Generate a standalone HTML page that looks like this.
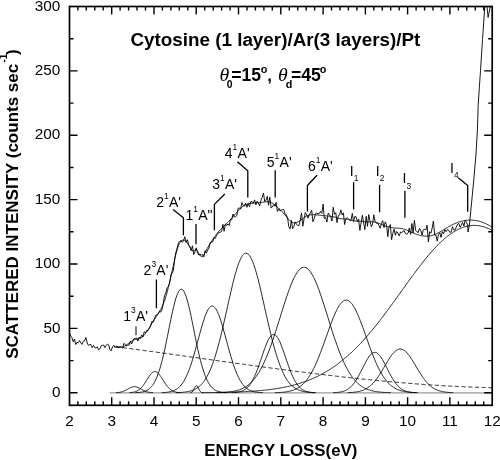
<!DOCTYPE html>
<html>
<head>
<meta charset="utf-8">
<title>Cytosine energy loss spectrum</title>
<style>
html,body{margin:0;padding:0;background:#fff;}
body{width:500px;height:460px;overflow:hidden;}
svg{display:block;font-family:"Liberation Sans",sans-serif;}
.c{fill:none;stroke:#000;stroke-width:0.85;stroke-linejoin:round;}
.d{fill:none;stroke:#000;stroke-width:0.9;stroke-linejoin:round;}
.t{font-size:15.3px;fill:#000;}
.p{font-size:14px;fill:#000;}
.b{font-weight:bold;fill:#000;}
.th{font-family:"Liberation Serif","Liberation Sans",serif;font-style:italic;font-weight:normal;font-size:18px;}
</style>
</head>
<body>
<svg width="500" height="460" viewBox="0 0 500 460">
<rect width="500" height="460" fill="#fff"/>
<!-- curves -->
<line x1="109.7" y1="392.8" x2="492.2" y2="392.8" stroke="#9a9a9a" stroke-width="1.3"/>
<path d="M115.9,392.7 L116.8,392.6 L117.6,392.6 L118.4,392.5 L119.3,392.4 L120.1,392.2 L121.0,392.1 L121.8,391.8 L122.7,391.6 L123.5,391.3 L124.4,390.9 L125.2,390.5 L126.1,390.1 L126.9,389.6 L127.7,389.2 L128.6,388.7 L129.4,388.2 L130.3,387.8 L131.1,387.4 L132.0,387.1 L132.8,386.8 L133.7,386.7 L134.5,386.6 L135.4,386.7 L136.2,386.8 L137.0,387.1 L137.9,387.4 L138.7,387.8 L139.6,388.2 L140.4,388.7 L141.3,389.2 L142.1,389.7 L143.0,390.1 L143.8,390.5 L144.7,390.9 L145.5,391.3 L146.3,391.6 L147.2,391.9 L148.0,392.1 L148.9,392.2 L149.7,392.4 L150.6,392.5 L151.4,392.6 L152.3,392.6 L153.1,392.7" class="c"/>
<path d="M129.4,392.7 L130.3,392.6 L131.1,392.5 L132.0,392.4 L132.8,392.3 L133.7,392.2 L134.5,392.0 L135.4,391.7 L136.2,391.4 L137.0,391.0 L137.9,390.5 L138.7,390.0 L139.6,389.3 L140.4,388.6 L141.3,387.8 L142.1,386.8 L143.0,385.8 L143.8,384.6 L144.7,383.4 L145.5,382.1 L146.3,380.7 L147.2,379.4 L148.0,378.0 L148.9,376.7 L149.7,375.5 L150.6,374.4 L151.4,373.5 L152.3,372.7 L153.1,372.1 L154.0,371.7 L154.8,371.6 L155.7,371.6 L156.5,372.0 L157.3,372.5 L158.2,373.3 L159.0,374.2 L159.9,375.3 L160.7,376.5 L161.6,377.7 L162.4,379.1 L163.3,380.4 L164.1,381.8 L165.0,383.1 L165.8,384.3 L166.6,385.5 L167.5,386.6 L168.3,387.6 L169.2,388.4 L170.0,389.2 L170.9,389.9 L171.7,390.4 L172.6,390.9 L173.4,391.3 L174.3,391.6 L175.1,391.9 L175.9,392.1 L176.8,392.3 L177.6,392.4 L178.5,392.5 L179.3,392.6 L180.2,392.6" class="c"/>
<path d="M135.4,392.7 L136.2,392.6 L137.0,392.6 L137.9,392.5 L138.7,392.5 L139.6,392.4 L140.4,392.3 L141.3,392.2 L142.1,392.0 L143.0,391.8 L143.8,391.6 L144.7,391.3 L145.5,391.0 L146.3,390.6 L147.2,390.2 L148.0,389.7 L148.9,389.1 L149.7,388.4 L150.6,387.6 L151.4,386.7 L152.3,385.6 L153.1,384.5 L154.0,383.1 L154.8,381.6 L155.7,379.9 L156.5,378.1 L157.3,376.0 L158.2,373.7 L159.0,371.3 L159.9,368.6 L160.7,365.7 L161.6,362.6 L162.4,359.3 L163.3,355.9 L164.1,352.2 L165.0,348.4 L165.8,344.4 L166.6,340.3 L167.5,336.2 L168.3,332.0 L169.2,327.7 L170.0,323.5 L170.9,319.4 L171.7,315.3 L172.6,311.4 L173.4,307.7 L174.3,304.2 L175.1,301.0 L175.9,298.1 L176.8,295.6 L177.6,293.5 L178.5,291.7 L179.3,290.4 L180.2,289.6 L181.0,289.2 L181.9,289.2 L182.7,289.8 L183.6,290.8 L184.4,292.3 L185.2,294.1 L186.1,296.4 L186.9,299.1 L187.8,302.1 L188.6,305.4 L189.5,308.9 L190.3,312.7 L191.2,316.7 L192.0,320.8 L192.9,324.9 L193.7,329.2 L194.5,333.4 L195.4,337.6 L196.2,341.7 L197.1,345.8 L197.9,349.7 L198.8,353.4 L199.6,357.0 L200.5,360.5 L201.3,363.7 L202.2,366.7 L203.0,369.5 L203.9,372.1 L204.7,374.5 L205.5,376.7 L206.4,378.7 L207.2,380.5 L208.1,382.1 L208.9,383.6 L209.8,384.9 L210.6,386.0 L211.5,387.0 L212.3,387.9 L213.2,388.6 L214.0,389.3 L214.8,389.9 L215.7,390.4 L216.5,390.8 L217.4,391.1 L218.2,391.4 L219.1,391.7 L219.9,391.9 L220.8,392.1 L221.6,392.2 L222.5,392.3 L223.3,392.4 L224.1,392.5 L225.0,392.6 L225.8,392.6 L226.7,392.6" class="c"/>
<path d="M190.3,392.7 L191.2,392.5 L192.0,392.0 L192.9,391.0 L193.7,389.6 L194.5,387.9 L195.4,386.4 L196.2,385.6 L197.1,386.0 L197.9,387.3 L198.8,389.0 L199.6,390.5 L200.5,391.7 L201.3,392.3 L202.2,392.6 L203.0,392.7" class="c"/>
<path d="M161.6,392.7 L162.4,392.6 L163.3,392.6 L164.1,392.5 L165.0,392.5 L165.8,392.4 L166.6,392.3 L167.5,392.2 L168.3,392.1 L169.2,391.9 L170.0,391.8 L170.9,391.6 L171.7,391.3 L172.6,391.1 L173.4,390.8 L174.3,390.4 L175.1,390.0 L175.9,389.5 L176.8,389.0 L177.6,388.4 L178.5,387.7 L179.3,386.9 L180.2,386.1 L181.0,385.1 L181.9,384.0 L182.7,382.9 L183.6,381.6 L184.4,380.2 L185.2,378.6 L186.1,376.9 L186.9,375.1 L187.8,373.2 L188.6,371.1 L189.5,368.8 L190.3,366.5 L191.2,364.0 L192.0,361.4 L192.9,358.6 L193.7,355.8 L194.5,352.9 L195.4,349.9 L196.2,346.8 L197.1,343.7 L197.9,340.5 L198.8,337.4 L199.6,334.3 L200.5,331.2 L201.3,328.2 L202.2,325.3 L203.0,322.5 L203.9,319.9 L204.7,317.4 L205.5,315.1 L206.4,313.0 L207.2,311.2 L208.1,309.6 L208.9,308.3 L209.8,307.3 L210.6,306.6 L211.5,306.1 L212.3,306.0 L213.2,306.2 L214.0,306.7 L214.8,307.5 L215.7,308.6 L216.5,310.0 L217.4,311.6 L218.2,313.5 L219.1,315.6 L219.9,318.0 L220.8,320.5 L221.6,323.2 L222.5,326.0 L223.3,329.0 L224.1,332.0 L225.0,335.1 L225.8,338.2 L226.7,341.3 L227.5,344.5 L228.4,347.6 L229.2,350.6 L230.1,353.6 L230.9,356.5 L231.8,359.3 L232.6,362.0 L233.4,364.6 L234.3,367.1 L235.1,369.4 L236.0,371.6 L236.8,373.7 L237.7,375.6 L238.5,377.4 L239.4,379.0 L240.2,380.5 L241.1,381.9 L241.9,383.2 L242.7,384.3 L243.6,385.4 L244.4,386.3 L245.3,387.1 L246.1,387.9 L247.0,388.5 L247.8,389.1 L248.7,389.6 L249.5,390.1 L250.4,390.5 L251.2,390.8 L252.0,391.1 L252.9,391.4 L253.7,391.6 L254.6,391.8 L255.4,392.0 L256.3,392.1 L257.1,392.2 L258.0,392.3 L258.8,392.4 L259.7,392.5 L260.5,392.5 L261.4,392.6 L262.2,392.6 L263.0,392.7" class="c"/>
<path d="M175.9,392.7 L176.8,392.6 L177.6,392.6 L178.5,392.6 L179.3,392.5 L180.2,392.5 L181.0,392.4 L181.9,392.4 L182.7,392.3 L183.6,392.2 L184.4,392.1 L185.2,392.0 L186.1,391.9 L186.9,391.8 L187.8,391.6 L188.6,391.5 L189.5,391.3 L190.3,391.0 L191.2,390.8 L192.0,390.5 L192.9,390.2 L193.7,389.9 L194.5,389.5 L195.4,389.1 L196.2,388.6 L197.1,388.0 L197.9,387.5 L198.8,386.8 L199.6,386.1 L200.5,385.3 L201.3,384.5 L202.2,383.6 L203.0,382.5 L203.9,381.4 L204.7,380.3 L205.5,379.0 L206.4,377.6 L207.2,376.1 L208.1,374.5 L208.9,372.8 L209.8,370.9 L210.6,369.0 L211.5,366.9 L212.3,364.7 L213.2,362.4 L214.0,359.9 L214.8,357.4 L215.7,354.7 L216.5,351.9 L217.4,348.9 L218.2,345.9 L219.1,342.7 L219.9,339.4 L220.8,336.0 L221.6,332.6 L222.5,329.0 L223.3,325.4 L224.1,321.7 L225.0,318.0 L225.8,314.2 L226.7,310.4 L227.5,306.6 L228.4,302.8 L229.2,299.0 L230.1,295.3 L230.9,291.6 L231.8,288.0 L232.6,284.5 L233.4,281.1 L234.3,277.8 L235.1,274.6 L236.0,271.7 L236.8,268.8 L237.7,266.2 L238.5,263.8 L239.4,261.6 L240.2,259.7 L241.1,257.9 L241.9,256.5 L242.7,255.3 L243.6,254.4 L244.4,253.7 L245.3,253.3 L246.1,253.2 L247.0,253.4 L247.8,253.9 L248.7,254.6 L249.5,255.6 L250.4,256.9 L251.2,258.5 L252.0,260.2 L252.9,262.3 L253.7,264.5 L254.6,267.0 L255.4,269.7 L256.3,272.6 L257.1,275.6 L258.0,278.8 L258.8,282.1 L259.7,285.6 L260.5,289.1 L261.4,292.7 L262.2,296.4 L263.0,300.2 L263.9,304.0 L264.7,307.8 L265.6,311.6 L266.4,315.4 L267.3,319.1 L268.1,322.8 L269.0,326.5 L269.8,330.1 L270.7,333.6 L271.5,337.1 L272.3,340.4 L273.2,343.7 L274.0,346.8 L274.9,349.8 L275.7,352.7 L276.6,355.5 L277.4,358.2 L278.3,360.7 L279.1,363.1 L280.0,365.4 L280.8,367.6 L281.6,369.6 L282.5,371.5 L283.3,373.3 L284.2,375.0 L285.0,376.6 L285.9,378.0 L286.7,379.4 L287.6,380.6 L288.4,381.8 L289.3,382.9 L290.1,383.9 L290.9,384.8 L291.8,385.6 L292.6,386.3 L293.5,387.0 L294.3,387.6 L295.2,388.2 L296.0,388.7 L296.9,389.2 L297.7,389.6 L298.6,390.0 L299.4,390.3 L300.2,390.6 L301.1,390.9 L301.9,391.1 L302.8,391.3 L303.6,391.5 L304.5,391.7 L305.3,391.8 L306.2,392.0 L307.0,392.1 L307.9,392.2 L308.7,392.3 L309.6,392.3 L310.4,392.4 L311.2,392.5 L312.1,392.5 L312.9,392.6 L313.8,392.6 L314.6,392.6 L315.5,392.6" class="c"/>
<path d="M231.8,392.7 L232.6,392.6 L233.4,392.6 L234.3,392.5 L235.1,392.5 L236.0,392.4 L236.8,392.3 L237.7,392.2 L238.5,392.0 L239.4,391.8 L240.2,391.6 L241.1,391.4 L241.9,391.1 L242.7,390.7 L243.6,390.3 L244.4,389.8 L245.3,389.3 L246.1,388.6 L247.0,387.9 L247.8,387.1 L248.7,386.1 L249.5,385.1 L250.4,384.0 L251.2,382.7 L252.0,381.3 L252.9,379.7 L253.7,378.1 L254.6,376.3 L255.4,374.4 L256.3,372.3 L257.1,370.2 L258.0,368.0 L258.8,365.6 L259.7,363.2 L260.5,360.7 L261.4,358.3 L262.2,355.8 L263.0,353.3 L263.9,350.8 L264.7,348.5 L265.6,346.2 L266.4,344.1 L267.3,342.1 L268.1,340.3 L269.0,338.7 L269.8,337.3 L270.7,336.2 L271.5,335.4 L272.3,334.8 L273.2,334.5 L274.0,334.5 L274.9,334.8 L275.7,335.4 L276.6,336.2 L277.4,337.4 L278.3,338.7 L279.1,340.3 L280.0,342.1 L280.8,344.1 L281.6,346.3 L282.5,348.5 L283.3,350.9 L284.2,353.3 L285.0,355.8 L285.9,358.3 L286.7,360.8 L287.6,363.3 L288.4,365.7 L289.3,368.0 L290.1,370.3 L290.9,372.4 L291.8,374.4 L292.6,376.4 L293.5,378.1 L294.3,379.8 L295.2,381.3 L296.0,382.7 L296.9,384.0 L297.7,385.1 L298.6,386.2 L299.4,387.1 L300.2,387.9 L301.1,388.6 L301.9,389.3 L302.8,389.8 L303.6,390.3 L304.5,390.7 L305.3,391.1 L306.2,391.4 L307.0,391.6 L307.9,391.8 L308.7,392.0 L309.6,392.2 L310.4,392.3 L311.2,392.4 L312.1,392.5 L312.9,392.5 L313.8,392.6 L314.6,392.6 L315.5,392.7" class="c"/>
<path d="M216.5,392.7 L217.4,392.6 L218.2,392.6 L219.1,392.6 L219.9,392.6 L220.8,392.5 L221.6,392.5 L222.5,392.5 L223.3,392.4 L224.1,392.4 L225.0,392.3 L225.8,392.3 L226.7,392.2 L227.5,392.1 L228.4,392.0 L229.2,391.9 L230.1,391.8 L230.9,391.7 L231.8,391.6 L232.6,391.5 L233.4,391.3 L234.3,391.2 L235.1,391.0 L236.0,390.8 L236.8,390.6 L237.7,390.3 L238.5,390.1 L239.4,389.8 L240.2,389.5 L241.1,389.1 L241.9,388.8 L242.7,388.4 L243.6,388.0 L244.4,387.5 L245.3,387.0 L246.1,386.5 L247.0,385.9 L247.8,385.3 L248.7,384.6 L249.5,383.9 L250.4,383.2 L251.2,382.4 L252.0,381.5 L252.9,380.6 L253.7,379.6 L254.6,378.6 L255.4,377.5 L256.3,376.3 L257.1,375.1 L258.0,373.8 L258.8,372.5 L259.7,371.1 L260.5,369.6 L261.4,368.0 L262.2,366.4 L263.0,364.7 L263.9,362.9 L264.7,361.1 L265.6,359.1 L266.4,357.2 L267.3,355.1 L268.1,353.0 L269.0,350.8 L269.8,348.5 L270.7,346.2 L271.5,343.9 L272.3,341.4 L273.2,339.0 L274.0,336.4 L274.9,333.9 L275.7,331.3 L276.6,328.6 L277.4,325.9 L278.3,323.3 L279.1,320.6 L280.0,317.8 L280.8,315.1 L281.6,312.4 L282.5,309.7 L283.3,307.0 L284.2,304.4 L285.0,301.7 L285.9,299.1 L286.7,296.6 L287.6,294.1 L288.4,291.7 L289.3,289.4 L290.1,287.1 L290.9,284.9 L291.8,282.9 L292.6,280.9 L293.5,279.0 L294.3,277.3 L295.2,275.7 L296.0,274.2 L296.9,272.8 L297.7,271.6 L298.6,270.5 L299.4,269.6 L300.2,268.8 L301.1,268.2 L301.9,267.7 L302.8,267.4 L303.6,267.3 L304.5,267.3 L305.3,267.4 L306.2,267.8 L307.0,268.3 L307.9,268.9 L308.7,269.7 L309.6,270.7 L310.4,271.7 L311.2,273.0 L312.1,274.4 L312.9,275.9 L313.8,277.5 L314.6,279.3 L315.5,281.1 L316.3,283.1 L317.2,285.2 L318.0,287.4 L318.9,289.7 L319.7,292.0 L320.5,294.4 L321.4,296.9 L322.2,299.5 L323.1,302.1 L323.9,304.7 L324.8,307.4 L325.6,310.0 L326.5,312.7 L327.3,315.5 L328.2,318.2 L329.0,320.9 L329.8,323.6 L330.7,326.3 L331.5,329.0 L332.4,331.6 L333.2,334.2 L334.1,336.8 L334.9,339.3 L335.8,341.7 L336.6,344.2 L337.5,346.5 L338.3,348.8 L339.1,351.1 L340.0,353.3 L340.8,355.4 L341.7,357.4 L342.5,359.4 L343.4,361.3 L344.2,363.1 L345.1,364.9 L345.9,366.6 L346.8,368.2 L347.6,369.8 L348.4,371.2 L349.3,372.7 L350.1,374.0 L351.0,375.3 L351.8,376.5 L352.7,377.6 L353.5,378.7 L354.4,379.7 L355.2,380.7 L356.1,381.6 L356.9,382.5 L357.7,383.3 L358.6,384.0 L359.4,384.7 L360.3,385.4 L361.1,386.0 L362.0,386.5 L362.8,387.1 L363.7,387.6 L364.5,388.0 L365.4,388.4 L366.2,388.8 L367.1,389.2 L367.9,389.5 L368.7,389.8 L369.6,390.1 L370.4,390.3 L371.3,390.6 L372.1,390.8 L373.0,391.0 L373.8,391.2 L374.7,391.3 L375.5,391.5 L376.4,391.6 L377.2,391.7 L378.0,391.9 L378.9,392.0 L379.7,392.0 L380.6,392.1 L381.4,392.2 L382.3,392.3 L383.1,392.3 L384.0,392.4 L384.8,392.4 L385.7,392.5 L386.5,392.5 L387.3,392.5 L388.2,392.6 L389.0,392.6 L389.9,392.6 L390.7,392.6" class="c"/>
<path d="M274.9,392.7 L275.7,392.6 L276.6,392.6 L277.4,392.6 L278.3,392.5 L279.1,392.5 L280.0,392.4 L280.8,392.4 L281.6,392.3 L282.5,392.3 L283.3,392.2 L284.2,392.1 L285.0,392.0 L285.9,391.9 L286.7,391.7 L287.6,391.6 L288.4,391.4 L289.3,391.3 L290.1,391.1 L290.9,390.9 L291.8,390.6 L292.6,390.3 L293.5,390.1 L294.3,389.7 L295.2,389.4 L296.0,389.0 L296.9,388.5 L297.7,388.1 L298.6,387.6 L299.4,387.0 L300.2,386.4 L301.1,385.7 L301.9,385.0 L302.8,384.3 L303.6,383.5 L304.5,382.6 L305.3,381.6 L306.2,380.6 L307.0,379.5 L307.9,378.4 L308.7,377.2 L309.6,375.9 L310.4,374.5 L311.2,373.1 L312.1,371.6 L312.9,370.0 L313.8,368.3 L314.6,366.6 L315.5,364.8 L316.3,362.9 L317.2,360.9 L318.0,358.9 L318.9,356.8 L319.7,354.7 L320.5,352.5 L321.4,350.3 L322.2,348.0 L323.1,345.7 L323.9,343.3 L324.8,341.0 L325.6,338.6 L326.5,336.2 L327.3,333.8 L328.2,331.4 L329.0,329.1 L329.8,326.7 L330.7,324.4 L331.5,322.2 L332.4,320.0 L333.2,317.9 L334.1,315.8 L334.9,313.9 L335.8,312.0 L336.6,310.3 L337.5,308.6 L338.3,307.1 L339.1,305.7 L340.0,304.5 L340.8,303.4 L341.7,302.4 L342.5,301.7 L343.4,301.0 L344.2,300.5 L345.1,300.2 L345.9,300.1 L346.8,300.1 L347.6,300.3 L348.4,300.7 L349.3,301.2 L350.1,301.9 L351.0,302.7 L351.8,303.7 L352.7,304.9 L353.5,306.2 L354.4,307.6 L355.2,309.1 L356.1,310.8 L356.9,312.6 L357.7,314.5 L358.6,316.5 L359.4,318.5 L360.3,320.7 L361.1,322.9 L362.0,325.2 L362.8,327.5 L363.7,329.8 L364.5,332.2 L365.4,334.6 L366.2,336.9 L367.1,339.3 L367.9,341.7 L368.7,344.1 L369.6,346.4 L370.4,348.7 L371.3,351.0 L372.1,353.2 L373.0,355.4 L373.8,357.5 L374.7,359.6 L375.5,361.6 L376.4,363.5 L377.2,365.3 L378.0,367.1 L378.9,368.8 L379.7,370.5 L380.6,372.0 L381.4,373.5 L382.3,375.0 L383.1,376.3 L384.0,377.6 L384.8,378.8 L385.7,379.9 L386.5,380.9 L387.3,381.9 L388.2,382.9 L389.0,383.7 L389.9,384.5 L390.7,385.3 L391.6,386.0 L392.4,386.6 L393.3,387.2 L394.1,387.7 L395.0,388.2 L395.8,388.7 L396.6,389.1 L397.5,389.5 L398.3,389.8 L399.2,390.1 L400.0,390.4 L400.9,390.7 L401.7,390.9 L402.6,391.1 L403.4,391.3 L404.3,391.5 L405.1,391.7 L405.9,391.8 L406.8,391.9 L407.6,392.0 L408.5,392.1 L409.3,392.2 L410.2,392.3 L411.0,392.3 L411.9,392.4 L412.7,392.5 L413.6,392.5 L414.4,392.5 L415.3,392.6 L416.1,392.6 L416.9,392.6 L417.8,392.7" class="c"/>
<path d="M333.2,392.7 L334.1,392.6 L334.9,392.6 L335.8,392.5 L336.6,392.5 L337.5,392.4 L338.3,392.3 L339.1,392.2 L340.0,392.1 L340.8,391.9 L341.7,391.7 L342.5,391.5 L343.4,391.3 L344.2,391.0 L345.1,390.7 L345.9,390.3 L346.8,389.8 L347.6,389.3 L348.4,388.8 L349.3,388.2 L350.1,387.5 L351.0,386.7 L351.8,385.8 L352.7,384.9 L353.5,383.8 L354.4,382.7 L355.2,381.5 L356.1,380.2 L356.9,378.9 L357.7,377.4 L358.6,375.9 L359.4,374.3 L360.3,372.7 L361.1,371.1 L362.0,369.4 L362.8,367.7 L363.7,366.0 L364.5,364.4 L365.4,362.7 L366.2,361.2 L367.1,359.7 L367.9,358.3 L368.7,357.0 L369.6,355.9 L370.4,354.9 L371.3,354.0 L372.1,353.3 L373.0,352.8 L373.8,352.5 L374.7,352.4 L375.5,352.4 L376.4,352.7 L377.2,353.1 L378.0,353.8 L378.9,354.6 L379.7,355.5 L380.6,356.6 L381.4,357.9 L382.3,359.2 L383.1,360.7 L384.0,362.2 L384.8,363.8 L385.7,365.5 L386.5,367.2 L387.3,368.8 L388.2,370.5 L389.0,372.2 L389.9,373.8 L390.7,375.4 L391.6,376.9 L392.4,378.4 L393.3,379.8 L394.1,381.1 L395.0,382.3 L395.8,383.5 L396.6,384.5 L397.5,385.5 L398.3,386.4 L399.2,387.2 L400.0,387.9 L400.9,388.6 L401.7,389.2 L402.6,389.7 L403.4,390.1 L404.3,390.5 L405.1,390.9 L405.9,391.2 L406.8,391.5 L407.6,391.7 L408.5,391.9 L409.3,392.0 L410.2,392.2 L411.0,392.3 L411.9,392.4 L412.7,392.5 L413.6,392.5 L414.4,392.6 L415.3,392.6 L416.1,392.7" class="c"/>
<path d="M347.6,392.6 L348.4,392.6 L349.3,392.6 L350.1,392.5 L351.0,392.5 L351.8,392.4 L352.7,392.4 L353.5,392.3 L354.4,392.2 L355.2,392.1 L356.1,392.0 L356.9,391.9 L357.7,391.7 L358.6,391.5 L359.4,391.4 L360.3,391.1 L361.1,390.9 L362.0,390.6 L362.8,390.3 L363.7,390.0 L364.5,389.6 L365.4,389.2 L366.2,388.7 L367.1,388.2 L367.9,387.7 L368.7,387.1 L369.6,386.4 L370.4,385.7 L371.3,385.0 L372.1,384.2 L373.0,383.3 L373.8,382.4 L374.7,381.4 L375.5,380.3 L376.4,379.2 L377.2,378.1 L378.0,376.9 L378.9,375.6 L379.7,374.3 L380.6,373.0 L381.4,371.7 L382.3,370.3 L383.1,368.8 L384.0,367.4 L384.8,366.0 L385.7,364.6 L386.5,363.1 L387.3,361.7 L388.2,360.4 L389.0,359.0 L389.9,357.7 L390.7,356.5 L391.6,355.3 L392.4,354.2 L393.3,353.2 L394.1,352.3 L395.0,351.5 L395.8,350.8 L396.6,350.2 L397.5,349.7 L398.3,349.4 L399.2,349.1 L400.0,349.0 L400.9,349.0 L401.7,349.2 L402.6,349.5 L403.4,349.9 L404.3,350.4 L405.1,351.0 L405.9,351.8 L406.8,352.6 L407.6,353.6 L408.5,354.6 L409.3,355.7 L410.2,356.9 L411.0,358.2 L411.9,359.5 L412.7,360.8 L413.6,362.2 L414.4,363.6 L415.3,365.1 L416.1,366.5 L416.9,367.9 L417.8,369.4 L418.6,370.8 L419.5,372.1 L420.3,373.5 L421.2,374.8 L422.0,376.1 L422.9,377.3 L423.7,378.5 L424.6,379.6 L425.4,380.7 L426.2,381.7 L427.1,382.7 L427.9,383.6 L428.8,384.5 L429.6,385.2 L430.5,386.0 L431.3,386.7 L432.2,387.3 L433.0,387.9 L433.9,388.4 L434.7,388.9 L435.5,389.3 L436.4,389.7 L437.2,390.1 L438.1,390.4 L438.9,390.7 L439.8,391.0 L440.6,391.2 L441.5,391.4 L442.3,391.6 L443.2,391.8 L444.0,391.9 L444.8,392.0 L445.7,392.1 L446.5,392.2 L447.4,392.3 L448.2,392.4 L449.1,392.5 L449.9,392.5 L450.8,392.6 L451.6,392.6 L452.5,392.6 L453.3,392.7" class="c"/>
<path d="M202.2,392.6 L203.0,392.6 L203.9,392.6 L204.7,392.6 L205.5,392.6 L206.4,392.6 L207.2,392.6 L208.1,392.6 L208.9,392.6 L209.8,392.6 L210.6,392.6 L211.5,392.6 L212.3,392.5 L213.2,392.5 L214.0,392.5 L214.8,392.5 L215.7,392.5 L216.5,392.5 L217.4,392.5 L218.2,392.5 L219.1,392.4 L219.9,392.4 L220.8,392.4 L221.6,392.4 L222.5,392.4 L223.3,392.4 L224.1,392.3 L225.0,392.3 L225.8,392.3 L226.7,392.3 L227.5,392.3 L228.4,392.2 L229.2,392.2 L230.1,392.2 L230.9,392.2 L231.8,392.2 L232.6,392.1 L233.4,392.1 L234.3,392.1 L235.1,392.0 L236.0,392.0 L236.8,392.0 L237.7,392.0 L238.5,391.9 L239.4,391.9 L240.2,391.9 L241.1,391.8 L241.9,391.8 L242.7,391.7 L243.6,391.7 L244.4,391.7 L245.3,391.6 L246.1,391.6 L247.0,391.5 L247.8,391.5 L248.7,391.4 L249.5,391.4 L250.4,391.3 L251.2,391.3 L252.0,391.2 L252.9,391.2 L253.7,391.1 L254.6,391.0 L255.4,391.0 L256.3,390.9 L257.1,390.8 L258.0,390.8 L258.8,390.7 L259.7,390.6 L260.5,390.6 L261.4,390.5 L262.2,390.4 L263.0,390.3 L263.9,390.2 L264.7,390.1 L265.6,390.1 L266.4,390.0 L267.3,389.9 L268.1,389.8 L269.0,389.7 L269.8,389.6 L270.7,389.5 L271.5,389.3 L272.3,389.2 L273.2,389.1 L274.0,389.0 L274.9,388.9 L275.7,388.7 L276.6,388.6 L277.4,388.5 L278.3,388.3 L279.1,388.2 L280.0,388.1 L280.8,387.9 L281.6,387.8 L282.5,387.6 L283.3,387.4 L284.2,387.3 L285.0,387.1 L285.9,386.9 L286.7,386.7 L287.6,386.6 L288.4,386.4 L289.3,386.2 L290.1,386.0 L290.9,385.8 L291.8,385.6 L292.6,385.4 L293.5,385.1 L294.3,384.9 L295.2,384.7 L296.0,384.5 L296.9,384.2 L297.7,384.0 L298.6,383.7 L299.4,383.5 L300.2,383.2 L301.1,382.9 L301.9,382.6 L302.8,382.4 L303.6,382.1 L304.5,381.8 L305.3,381.5 L306.2,381.2 L307.0,380.8 L307.9,380.5 L308.7,380.2 L309.6,379.9 L310.4,379.5 L311.2,379.2 L312.1,378.8 L312.9,378.4 L313.8,378.1 L314.6,377.7 L315.5,377.3 L316.3,376.9 L317.2,376.5 L318.0,376.1 L318.9,375.7 L319.7,375.2 L320.5,374.8 L321.4,374.3 L322.2,373.9 L323.1,373.4 L323.9,373.0 L324.8,372.5 L325.6,372.0 L326.5,371.5 L327.3,371.0 L328.2,370.5 L329.0,369.9 L329.8,369.4 L330.7,368.9 L331.5,368.3 L332.4,367.7 L333.2,367.2 L334.1,366.6 L334.9,366.0 L335.8,365.4 L336.6,364.8 L337.5,364.2 L338.3,363.5 L339.1,362.9 L340.0,362.2 L340.8,361.6 L341.7,360.9 L342.5,360.2 L343.4,359.5 L344.2,358.8 L345.1,358.1 L345.9,357.4 L346.8,356.7 L347.6,355.9 L348.4,355.2 L349.3,354.4 L350.1,353.6 L351.0,352.9 L351.8,352.1 L352.7,351.3 L353.5,350.5 L354.4,349.6 L355.2,348.8 L356.1,348.0 L356.9,347.1 L357.7,346.3 L358.6,345.4 L359.4,344.5 L360.3,343.6 L361.1,342.7 L362.0,341.8 L362.8,340.9 L363.7,340.0 L364.5,339.0 L365.4,338.1 L366.2,337.1 L367.1,336.1 L367.9,335.2 L368.7,334.2 L369.6,333.2 L370.4,332.2 L371.3,331.2 L372.1,330.2 L373.0,329.1 L373.8,328.1 L374.7,327.1 L375.5,326.0 L376.4,325.0 L377.2,323.9 L378.0,322.8 L378.9,321.8 L379.7,320.7 L380.6,319.6 L381.4,318.5 L382.3,317.4 L383.1,316.3 L384.0,315.1 L384.8,314.0 L385.7,312.9 L386.5,311.8 L387.3,310.6 L388.2,309.5 L389.0,308.3 L389.9,307.2 L390.7,306.0 L391.6,304.9 L392.4,303.7 L393.3,302.5 L394.1,301.4 L395.0,300.2 L395.8,299.0 L396.6,297.9 L397.5,296.7 L398.3,295.5 L399.2,294.3 L400.0,293.1 L400.9,292.0 L401.7,290.8 L402.6,289.6 L403.4,288.4 L404.3,287.2 L405.1,286.1 L405.9,284.9 L406.8,283.7 L407.6,282.5 L408.5,281.4 L409.3,280.2 L410.2,279.0 L411.0,277.9 L411.9,276.7 L412.7,275.6 L413.6,274.4 L414.4,273.3 L415.3,272.1 L416.1,271.0 L416.9,269.9 L417.8,268.8 L418.6,267.7 L419.5,266.5 L420.3,265.4 L421.2,264.4 L422.0,263.3 L422.9,262.2 L423.7,261.1 L424.6,260.1 L425.4,259.0 L426.2,258.0 L427.1,257.0 L427.9,255.9 L428.8,254.9 L429.6,254.0 L430.5,253.0 L431.3,252.0 L432.2,251.0 L433.0,250.1 L433.9,249.2 L434.7,248.3 L435.5,247.3 L436.4,246.5 L437.2,245.6 L438.1,244.7 L438.9,243.9 L439.8,243.0 L440.6,242.2 L441.5,241.4 L442.3,240.7 L443.2,239.9 L444.0,239.1 L444.8,238.4 L445.7,237.7 L446.5,237.0 L447.4,236.3 L448.2,235.7 L449.1,235.0 L449.9,234.4 L450.8,233.8 L451.6,233.2 L452.5,232.7 L453.3,232.1 L454.1,231.6 L455.0,231.1 L455.8,230.6 L456.7,230.1 L457.5,229.7 L458.4,229.3 L459.2,228.9 L460.1,228.5 L460.9,228.1 L461.8,227.8 L462.6,227.5 L463.4,227.2 L464.3,226.9 L465.1,226.7 L466.0,226.4 L466.8,226.2 L467.7,226.1 L468.5,225.9 L469.4,225.8 L470.2,225.6 L471.1,225.5 L471.9,225.5 L472.8,225.4 L473.6,225.4 L474.4,225.4 L475.3,225.4 L476.1,225.5 L477.0,225.5 L477.8,225.6 L478.7,225.7 L479.5,225.9 L480.4,226.0 L481.2,226.2 L482.1,226.4 L482.9,226.6 L483.7,226.9 L484.6,227.1 L485.4,227.4 L486.3,227.7 L487.1,228.1 L488.0,228.4 L488.8,228.8 L489.7,229.2 L490.5,229.6 L491.4,230.0 L492.2,230.5" class="c"/>
<path d="M115.9,346.7 L116.8,346.9 L117.6,347.0 L118.4,347.1 L119.3,347.2 L120.1,347.3 L121.0,347.4 L121.8,347.5 L122.7,347.6 L123.5,347.7 L124.4,347.9 L125.2,348.0 L126.1,348.1 L126.9,348.2 L127.7,348.3 L128.6,348.4 L129.4,348.5 L130.3,348.6 L131.1,348.7 L132.0,348.9 L132.8,349.0 L133.7,349.1 L134.5,349.2 L135.4,349.3 L136.2,349.4 L137.0,349.5 L137.9,349.7 L138.7,349.8 L139.6,349.9 L140.4,350.0 L141.3,350.1 L142.1,350.2 L143.0,350.3 L143.8,350.5 L144.7,350.6 L145.5,350.7 L146.3,350.8 L147.2,350.9 L148.0,351.0 L148.9,351.1 L149.7,351.3 L150.6,351.4 L151.4,351.5 L152.3,351.6 L153.1,351.7 L154.0,351.8 L154.8,352.0 L155.7,352.1 L156.5,352.2 L157.3,352.3 L158.2,352.4 L159.0,352.5 L159.9,352.6 L160.7,352.8 L161.6,352.9 L162.4,353.0 L163.3,353.1 L164.1,353.2 L165.0,353.3 L165.8,353.5 L166.6,353.6 L167.5,353.7 L168.3,353.8 L169.2,353.9 L170.0,354.1 L170.9,354.2 L171.7,354.3 L172.6,354.4 L173.4,354.5 L174.3,354.6 L175.1,354.8 L175.9,354.9 L176.8,355.0 L177.6,355.1 L178.5,355.2 L179.3,355.3 L180.2,355.5 L181.0,355.6 L181.9,355.7 L182.7,355.8 L183.6,355.9 L184.4,356.1 L185.2,356.2 L186.1,356.3 L186.9,356.4 L187.8,356.5 L188.6,356.6 L189.5,356.8 L190.3,356.9 L191.2,357.0 L192.0,357.1 L192.9,357.2 L193.7,357.4 L194.5,357.5 L195.4,357.6 L196.2,357.7 L197.1,357.8 L197.9,357.9 L198.8,358.1 L199.6,358.2 L200.5,358.3 L201.3,358.4 L202.2,358.5 L203.0,358.7 L203.9,358.8 L204.7,358.9 L205.5,359.0 L206.4,359.1 L207.2,359.2 L208.1,359.4 L208.9,359.5 L209.8,359.6 L210.6,359.7 L211.5,359.8 L212.3,360.0 L213.2,360.1 L214.0,360.2 L214.8,360.3 L215.7,360.4 L216.5,360.5 L217.4,360.7 L218.2,360.8 L219.1,360.9 L219.9,361.0 L220.8,361.1 L221.6,361.3 L222.5,361.4 L223.3,361.5 L224.1,361.6 L225.0,361.7 L225.8,361.8 L226.7,362.0 L227.5,362.1 L228.4,362.2 L229.2,362.3 L230.1,362.4 L230.9,362.5 L231.8,362.7 L232.6,362.8 L233.4,362.9 L234.3,363.0 L235.1,363.1 L236.0,363.2 L236.8,363.4 L237.7,363.5 L238.5,363.6 L239.4,363.7 L240.2,363.8 L241.1,363.9 L241.9,364.1 L242.7,364.2 L243.6,364.3 L244.4,364.4 L245.3,364.5 L246.1,364.6 L247.0,364.8 L247.8,364.9 L248.7,365.0 L249.5,365.1 L250.4,365.2 L251.2,365.3 L252.0,365.5 L252.9,365.6 L253.7,365.7 L254.6,365.8 L255.4,365.9 L256.3,366.0 L257.1,366.1 L258.0,366.3 L258.8,366.4 L259.7,366.5 L260.5,366.6 L261.4,366.7 L262.2,366.8 L263.0,366.9 L263.9,367.1 L264.7,367.2 L265.6,367.3 L266.4,367.4 L267.3,367.5 L268.1,367.6 L269.0,367.7 L269.8,367.9 L270.7,368.0 L271.5,368.1 L272.3,368.2 L273.2,368.3 L274.0,368.4 L274.9,368.5 L275.7,368.6 L276.6,368.7 L277.4,368.9 L278.3,369.0 L279.1,369.1 L280.0,369.2 L280.8,369.3 L281.6,369.4 L282.5,369.5 L283.3,369.6 L284.2,369.7 L285.0,369.9 L285.9,370.0 L286.7,370.1 L287.6,370.2 L288.4,370.3 L289.3,370.4 L290.1,370.5 L290.9,370.6 L291.8,370.7 L292.6,370.8 L293.5,370.9 L294.3,371.1 L295.2,371.2 L296.0,371.3 L296.9,371.4 L297.7,371.5 L298.6,371.6 L299.4,371.7 L300.2,371.8 L301.1,371.9 L301.9,372.0 L302.8,372.1 L303.6,372.2 L304.5,372.3 L305.3,372.4 L306.2,372.6 L307.0,372.7 L307.9,372.8 L308.7,372.9 L309.6,373.0 L310.4,373.1 L311.2,373.2 L312.1,373.3 L312.9,373.4 L313.8,373.5 L314.6,373.6 L315.5,373.7 L316.3,373.8 L317.2,373.9 L318.0,374.0 L318.9,374.1 L319.7,374.2 L320.5,374.3 L321.4,374.4 L322.2,374.5 L323.1,374.6 L323.9,374.7 L324.8,374.8 L325.6,374.9 L326.5,375.0 L327.3,375.1 L328.2,375.2 L329.0,375.3 L329.8,375.4 L330.7,375.5 L331.5,375.6 L332.4,375.7 L333.2,375.8 L334.1,375.9 L334.9,376.0 L335.8,376.1 L336.6,376.2 L337.5,376.3 L338.3,376.4 L339.1,376.5 L340.0,376.6 L340.8,376.7 L341.7,376.8 L342.5,376.9 L343.4,377.0 L344.2,377.1 L345.1,377.2 L345.9,377.2 L346.8,377.3 L347.6,377.4 L348.4,377.5 L349.3,377.6 L350.1,377.7 L351.0,377.8 L351.8,377.9 L352.7,378.0 L353.5,378.1 L354.4,378.2 L355.2,378.3 L356.1,378.3 L356.9,378.4 L357.7,378.5 L358.6,378.6 L359.4,378.7 L360.3,378.8 L361.1,378.9 L362.0,379.0 L362.8,379.1 L363.7,379.1 L364.5,379.2 L365.4,379.3 L366.2,379.4 L367.1,379.5 L367.9,379.6 L368.7,379.7 L369.6,379.7 L370.4,379.8 L371.3,379.9 L372.1,380.0 L373.0,380.1 L373.8,380.2 L374.7,380.3 L375.5,380.3 L376.4,380.4 L377.2,380.5 L378.0,380.6 L378.9,380.7 L379.7,380.7 L380.6,380.8 L381.4,380.9 L382.3,381.0 L383.1,381.1 L384.0,381.1 L384.8,381.2 L385.7,381.3 L386.5,381.4 L387.3,381.5 L388.2,381.5 L389.0,381.6 L389.9,381.7 L390.7,381.8 L391.6,381.8 L392.4,381.9 L393.3,382.0 L394.1,382.1 L395.0,382.1 L395.8,382.2 L396.6,382.3 L397.5,382.4 L398.3,382.4 L399.2,382.5 L400.0,382.6 L400.9,382.7 L401.7,382.7 L402.6,382.8 L403.4,382.9 L404.3,382.9 L405.1,383.0 L405.9,383.1 L406.8,383.1 L407.6,383.2 L408.5,383.3 L409.3,383.3 L410.2,383.4 L411.0,383.5 L411.9,383.5 L412.7,383.6 L413.6,383.7 L414.4,383.7 L415.3,383.8 L416.1,383.9 L416.9,383.9 L417.8,384.0 L418.6,384.1 L419.5,384.1 L420.3,384.2 L421.2,384.2 L422.0,384.3 L422.9,384.4 L423.7,384.4 L424.6,384.5 L425.4,384.6 L426.2,384.6 L427.1,384.7 L427.9,384.7 L428.8,384.8 L429.6,384.8 L430.5,384.9 L431.3,385.0 L432.2,385.0 L433.0,385.1 L433.9,385.1 L434.7,385.2 L435.5,385.2 L436.4,385.3 L437.2,385.3 L438.1,385.4 L438.9,385.4 L439.8,385.5 L440.6,385.5 L441.5,385.6 L442.3,385.6 L443.2,385.7 L444.0,385.7 L444.8,385.8 L445.7,385.8 L446.5,385.9 L447.4,385.9 L448.2,386.0 L449.1,386.0 L449.9,386.1 L450.8,386.1 L451.6,386.2 L452.5,386.2 L453.3,386.3 L454.1,386.3 L455.0,386.3 L455.8,386.4 L456.7,386.4 L457.5,386.5 L458.4,386.5 L459.2,386.6 L460.1,386.6 L460.9,386.6 L461.8,386.7 L462.6,386.7 L463.4,386.7 L464.3,386.8 L465.1,386.8 L466.0,386.9 L466.8,386.9 L467.7,386.9 L468.5,387.0 L469.4,387.0 L470.2,387.0 L471.1,387.1 L471.9,387.1 L472.8,387.1 L473.6,387.2 L474.4,387.2 L475.3,387.2 L476.1,387.3 L477.0,387.3 L477.8,387.3 L478.7,387.3 L479.5,387.4 L480.4,387.4 L481.2,387.4 L482.1,387.4 L482.9,387.5 L483.7,387.5 L484.6,387.5 L485.4,387.5 L486.3,387.6 L487.1,387.6 L488.0,387.6 L488.8,387.6 L489.7,387.7 L490.5,387.7 L491.4,387.7 L492.2,387.7" class="c" stroke-dasharray="4.2 2.5"/>
<path d="M115.9,347.0 L116.8,347.1 L117.6,347.1 L118.4,347.2 L119.3,347.2 L120.1,347.3 L121.0,347.2 L121.8,347.1 L122.7,346.9 L123.5,346.6 L124.4,346.2 L125.2,345.7 L126.1,345.2 L126.9,344.6 L127.7,344.0 L128.6,343.3 L129.4,342.7 L130.3,342.1 L131.1,341.5 L132.0,341.0 L132.8,340.5 L133.7,340.0 L134.5,339.7 L135.4,339.4 L136.2,339.2 L137.0,339.0 L137.9,338.8 L138.7,338.7 L139.6,338.4 L140.4,338.1 L141.3,337.7 L142.1,337.1 L143.0,336.4 L143.8,335.5 L144.7,334.6 L145.5,333.5 L146.3,332.3 L147.2,331.1 L148.0,329.8 L148.9,328.4 L149.7,327.0 L150.6,325.5 L151.4,324.1 L152.3,322.7 L153.1,321.3 L154.0,320.0 L154.8,318.7 L155.7,317.4 L156.5,316.2 L157.3,314.9 L158.2,313.7 L159.0,312.3 L159.9,311.0 L160.7,309.5 L161.6,307.8 L162.4,306.0 L163.3,304.0 L164.1,301.8 L165.0,299.4 L165.8,296.7 L166.6,293.9 L167.5,290.8 L168.3,287.5 L169.2,284.1 L170.0,280.4 L170.9,276.7 L171.7,272.9 L172.6,269.0 L173.4,265.2 L174.3,261.4 L175.1,257.7 L175.9,254.2 L176.8,250.9 L177.6,248.0 L178.5,245.5 L179.3,243.5 L180.2,242.1 L181.0,241.1 L181.9,240.5 L182.7,240.2 L183.6,240.1 L184.4,240.3 L185.2,240.9 L186.1,241.6 L186.9,242.6 L187.8,243.8 L188.6,245.2 L189.5,246.6 L190.3,248.1 L191.2,249.4 L192.0,250.4 L192.9,250.9 L193.7,250.8 L194.5,250.3 L195.4,249.7 L196.2,249.6 L197.1,250.3 L197.9,251.7 L198.8,253.4 L199.6,254.9 L200.5,256.0 L201.3,256.5 L202.2,256.6 L203.0,256.0 L203.9,254.8 L204.7,253.3 L205.5,251.6 L206.4,250.0 L207.2,248.5 L208.1,247.0 L208.9,245.6 L209.8,244.2 L210.6,242.8 L211.5,241.4 L212.3,240.1 L213.2,238.9 L214.0,237.7 L214.8,236.5 L215.7,235.3 L216.5,234.2 L217.4,233.1 L218.2,232.0 L219.1,231.0 L219.9,230.1 L220.8,229.2 L221.6,228.4 L222.5,227.5 L223.3,226.7 L224.1,225.9 L225.0,225.1 L225.8,224.2 L226.7,223.4 L227.5,222.5 L228.4,221.6 L229.2,220.8 L230.1,219.9 L230.9,219.0 L231.8,218.2 L232.6,217.3 L233.4,216.3 L234.3,215.4 L235.1,214.4 L236.0,213.4 L236.8,212.4 L237.7,211.4 L238.5,210.4 L239.4,209.5 L240.2,208.7 L241.1,207.9 L241.9,207.1 L242.7,206.5 L243.6,205.9 L244.4,205.4 L245.3,204.9 L246.1,204.6 L247.0,204.2 L247.8,204.0 L248.7,203.7 L249.5,203.5 L250.4,203.4 L251.2,203.3 L252.0,203.2 L252.9,203.1 L253.7,203.0 L254.6,203.0 L255.4,202.9 L256.3,202.8 L257.1,202.7 L258.0,202.7 L258.8,202.7 L259.7,202.6 L260.5,202.5 L261.4,202.4 L262.2,202.3 L263.0,202.2 L263.9,202.0 L264.7,201.9 L265.6,201.8 L266.4,201.7 L267.3,201.7 L268.1,201.7 L269.0,201.9 L269.8,202.1 L270.7,202.3 L271.5,202.7 L272.3,203.1 L273.2,203.6 L274.0,204.2 L274.9,204.9 L275.7,205.6 L276.6,206.4 L277.4,207.2 L278.3,207.9 L279.1,208.7 L280.0,209.5 L280.8,210.4 L281.6,211.2 L282.5,212.1 L283.3,213.0 L284.2,213.9 L285.0,215.0 L285.9,216.0 L286.7,217.1 L287.6,218.2 L288.4,219.2 L289.3,220.1 L290.1,220.9 L290.9,221.6 L291.8,222.1 L292.6,222.5 L293.5,222.8 L294.3,222.9 L295.2,222.8 L296.0,222.7 L296.9,222.4 L297.7,222.0 L298.6,221.6 L299.4,221.1 L300.2,220.6 L301.1,220.0 L301.9,219.3 L302.8,218.7 L303.6,218.0 L304.5,217.4 L305.3,216.8 L306.2,216.2 L307.0,215.8 L307.9,215.4 L308.7,215.2 L309.6,215.0 L310.4,214.9 L311.2,214.8 L312.1,214.7 L312.9,214.7 L313.8,214.7 L314.6,214.7 L315.5,214.8 L316.3,214.9 L317.2,214.9 L318.0,215.0 L318.9,215.1 L319.7,215.2 L320.5,215.3 L321.4,215.4 L322.2,215.5 L323.1,215.6 L323.9,215.7 L324.8,215.8 L325.6,215.8 L326.5,215.9 L327.3,216.0 L328.2,216.1 L329.0,216.2 L329.8,216.3 L330.7,216.4 L331.5,216.5 L332.4,216.6 L333.2,216.8 L334.1,216.9 L334.9,217.1 L335.8,217.3 L336.6,217.6 L337.5,217.9 L338.3,218.2 L339.1,218.4 L340.0,218.6 L340.8,218.7 L341.7,218.8 L342.5,218.8 L343.4,218.8 L344.2,218.9 L345.1,219.0 L345.9,219.1 L346.8,219.3 L347.6,219.4 L348.4,219.6 L349.3,219.9 L350.1,220.1 L351.0,220.3 L351.8,220.5 L352.7,220.7 L353.5,220.9 L354.4,221.0 L355.2,221.1 L356.1,221.2 L356.9,221.2 L357.7,221.2 L358.6,221.2 L359.4,221.1 L360.3,221.2 L361.1,221.3 L362.0,221.4 L362.8,221.5 L363.7,221.6 L364.5,221.7 L365.4,221.8 L366.2,221.8 L367.1,221.8 L367.9,221.9 L368.7,221.9 L369.6,221.9 L370.4,221.9 L371.3,221.8 L372.1,221.8 L373.0,221.9 L373.8,221.9 L374.7,222.0 L375.5,222.2 L376.4,222.4 L377.2,222.7 L378.0,223.0 L378.9,223.3 L379.7,223.7 L380.6,224.0 L381.4,224.4 L382.3,224.8 L383.1,225.2 L384.0,225.6 L384.8,225.9 L385.7,226.2 L386.5,226.5 L387.3,226.7 L388.2,226.9 L389.0,227.0 L389.9,227.2 L390.7,227.4 L391.6,227.5 L392.4,227.7 L393.3,227.8 L394.1,228.0 L395.0,228.0 L395.8,228.1 L396.6,228.1 L397.5,228.2 L398.3,228.2 L399.2,228.3 L400.0,228.3 L400.9,228.4 L401.7,228.5 L402.6,228.7 L403.4,228.9 L404.3,229.1 L405.1,229.4 L405.9,229.7 L406.8,230.1 L407.6,230.5 L408.5,231.0 L409.3,231.4 L410.2,231.8 L411.0,232.2 L411.9,232.5 L412.7,232.8 L413.6,233.1 L414.4,233.4 L415.3,233.8 L416.1,234.1 L416.9,234.4 L417.8,234.7 L418.6,235.0 L419.5,235.2 L420.3,235.5 L421.2,235.7 L422.0,235.8 L422.9,235.9 L423.7,236.0 L424.6,236.1 L425.4,236.1 L426.2,236.1 L427.1,236.1 L427.9,236.1 L428.8,236.0 L429.6,235.9 L430.5,235.8 L431.3,235.6 L432.2,235.4 L433.0,235.1 L433.9,234.8 L434.7,234.5 L435.5,234.2 L436.4,233.8 L437.2,233.4 L438.1,232.9 L438.9,232.5 L439.8,232.0 L440.6,231.5 L441.5,231.0 L442.3,230.5 L443.2,230.0 L444.0,229.5 L444.8,229.0 L445.7,228.5 L446.5,228.0 L447.4,227.5 L448.2,227.0 L449.1,226.5 L449.9,226.1 L450.8,225.6 L451.6,225.2 L452.5,224.7 L453.3,224.3 L454.1,223.9 L455.0,223.6 L455.8,223.2 L456.7,222.9 L457.5,222.5 L458.4,222.2 L459.2,221.9 L460.1,221.7 L460.9,221.4 L461.8,221.2 L462.6,221.0 L463.4,220.8 L464.3,220.6 L465.1,220.5 L466.0,220.4 L466.8,220.3 L467.7,220.2 L468.5,220.1 L469.4,220.1 L470.2,220.1 L471.1,220.1 L471.9,220.1 L472.8,220.2 L473.6,220.2 L474.4,220.3 L475.3,220.4 L476.1,220.6 L477.0,220.7 L477.8,220.9 L478.7,221.1 L479.5,221.3 L480.4,221.6 L481.2,221.9 L482.1,222.2 L482.9,222.5 L483.7,222.8 L484.6,223.2 L485.4,223.5 L486.3,223.9 L487.1,224.3 L488.0,224.8 L488.8,225.2 L489.7,225.7 L490.5,226.2 L491.4,226.7 L492.2,227.3" class="c"/>
<path d="M69.4,332.9 L70.7,335.9 L71.9,337.6 L73.2,341.9 L74.5,339.0 L75.7,344.5 L77.0,342.1 L78.3,342.7 L79.5,340.6 L80.8,343.0 L82.1,344.4 L83.4,341.0 L84.6,340.8 L85.9,337.6 L87.2,343.0 L88.4,345.4 L89.7,344.5 L91.0,344.6 L92.2,347.7 L93.5,345.4 L94.8,347.8 L96.0,347.8 L97.3,346.9 L98.6,349.9 L99.8,349.0 L101.1,345.9 L102.4,345.3 L103.6,345.0 L104.9,347.6 L106.2,345.5 L107.5,344.0 L108.7,344.9 L110.0,349.8 L111.3,350.6 L112.5,346.7 L113.8,345.2 L115.1,347.7 L116.3,345.9 L117.6,347.2 L118.9,347.2 L120.1,347.0 L121.4,347.1 L122.7,348.1 L123.9,343.4 L125.2,344.4 L126.5,346.3 L127.7,344.8 L129.0,345.2 L130.3,341.3 L131.6,344.0 L132.8,341.1 L134.1,338.5 L135.4,338.4 L136.6,338.0 L137.9,341.1 L139.2,337.1 L140.4,338.4 L141.7,334.9 L143.0,336.9 L144.2,331.9 L145.5,332.7 L146.8,330.3 L148.0,330.5 L149.3,328.5 L150.6,326.3 L151.8,321.5 L153.1,322.1 L154.4,319.5 L155.7,315.2 L156.9,314.6 L158.2,314.1 L159.5,311.1 L160.7,312.1 L162.0,309.8 L163.3,303.2 L164.5,295.5 L165.8,293.0 L167.1,287.7 L168.3,286.5 L169.6,283.2 L170.9,274.7 L172.1,273.2 L173.4,270.5 L174.7,258.7 L175.9,252.2 L177.2,248.1 L178.5,242.6 L179.8,241.3 L181.0,240.5 L182.3,242.3 L183.6,240.4 L184.8,236.7 L186.1,242.3 L187.4,239.7 L188.6,244.8 L189.9,246.6 L191.2,250.7 L192.4,245.8 L193.7,254.6 L195.0,251.8 L196.2,247.8 L197.5,252.5 L198.8,255.0 L200.0,254.4 L201.3,254.8 L202.6,254.7 L203.9,256.9 L205.1,250.6 L206.4,253.1 L207.7,250.1 L208.9,248.1 L210.2,242.6 L211.5,242.3 L212.7,242.0 L214.0,237.6 L215.3,238.5 L216.5,235.5 L217.8,233.3 L219.1,232.5 L220.3,232.2 L221.6,231.6 L222.9,224.3 L224.1,231.3 L225.4,223.9 L226.7,225.5 L227.9,223.9 L229.2,225.5 L230.5,219.6 L231.8,219.6 L233.0,214.0 L234.3,216.9 L235.6,216.8 L236.8,215.7 L238.1,208.3 L239.4,207.9 L240.6,209.2 L241.9,202.5 L243.2,205.4 L244.4,206.2 L245.7,203.3 L247.0,207.3 L248.2,203.6 L249.5,206.8 L250.8,201.7 L252.0,201.4 L253.3,203.4 L254.6,199.9 L255.9,204.8 L257.1,201.2 L258.4,203.0 L259.7,205.9 L260.9,200.5 L262.2,197.3 L263.5,193.0 L264.7,201.6 L266.0,200.3 L267.3,196.4 L268.5,205.1 L269.8,197.1 L271.1,208.0 L272.3,207.0 L273.6,204.7 L274.9,206.3 L276.1,202.4 L277.4,211.4 L278.7,208.8 L280.0,211.0 L281.2,210.1 L282.5,209.5 L283.8,209.5 L285.0,213.6 L286.3,214.9 L287.6,218.0 L288.8,226.5 L290.1,229.0 L291.4,220.3 L292.6,228.7 L293.9,226.3 L295.2,221.9 L296.4,224.1 L297.7,225.6 L299.0,225.4 L300.2,220.4 L301.5,213.1 L302.8,226.2 L304.1,218.8 L305.3,212.5 L306.6,214.8 L307.9,218.1 L309.1,214.9 L310.4,213.0 L311.7,210.2 L312.9,221.8 L314.2,218.5 L315.5,213.6 L316.7,213.0 L318.0,213.9 L319.3,213.4 L320.5,211.4 L321.8,213.4 L323.1,204.2 L324.3,218.6 L325.6,217.2 L326.9,222.1 L328.2,213.1 L329.4,214.7 L330.7,216.5 L332.0,221.0 L333.2,207.3 L334.5,214.3 L335.8,212.7 L337.0,222.6 L338.3,215.5 L339.6,215.0 L340.8,209.8 L342.1,214.9 L343.4,212.8 L344.6,224.5 L345.9,218.7 L347.2,217.7 L348.4,218.8 L349.7,219.9 L351.0,220.4 L352.3,213.5 L353.5,221.4 L354.8,216.5 L356.1,216.8 L357.3,221.5 L358.6,219.2 L359.9,230.4 L361.1,222.7 L362.4,215.3 L363.7,223.1 L364.9,229.6 L366.2,216.2 L367.5,226.3 L368.7,214.6 L370.0,220.9 L371.3,226.8 L372.5,224.4 L373.8,214.8 L375.1,221.5 L376.4,223.3 L377.6,223.0 L378.9,225.3 L380.2,228.3 L381.4,223.5 L382.7,220.7 L384.0,227.7 L385.2,221.9 L386.5,224.7 L387.8,236.7 L389.0,227.1 L390.3,224.5 L391.6,239.7 L392.8,233.5 L394.1,229.2 L395.4,235.3 L396.6,231.4 L397.9,233.0 L399.2,235.9 L400.5,232.0 L401.7,232.9 L403.0,231.1 L404.3,230.8 L405.5,233.7 L406.8,234.2 L408.1,233.1 L409.3,228.0 L410.6,234.4 L411.9,223.5 L413.1,233.0 L414.4,220.4 L415.7,230.4 L416.9,231.8 L418.2,232.5 L419.5,228.4 L420.7,230.0 L422.0,235.0 L423.3,230.2 L424.6,228.9 L425.8,230.1 L427.1,225.2 L428.4,241.9 L429.6,231.7 L430.9,233.2 L432.2,228.0 L433.4,221.0 L434.7,235.2 L436.0,235.2 L437.2,241.1 L438.5,234.4 L439.8,232.7 L441.0,237.4 L442.3,231.7 L443.6,233.8 L444.8,229.6 L446.1,231.7 L447.4,229.4 L448.7,230.3 L449.9,232.4 L451.2,231.8 L452.5,226.7 L453.7,229.8 L455.0,230.1 L456.3,227.1 L457.5,224.5 L458.8,223.4 L460.1,227.2 L461.3,225.1 L462.6,222.5 L463.9,226.0 L465.1,220.5 L466.4,222.2 L467.7,225.0 L468.0,232.0" class="d"/>
<path d="M468.0,232.0 L469.5,224.0 L473.4,184.0 L476.0,154.0 L477.4,130.0 L478.2,104.5 L480.5,70.6 L482.5,39.5 L484.8,6.5" class="d" stroke-width="0.75"/>
<path d="M487.0,6.5 L488.1,17.4 L490.3,6.5" class="d" stroke-width="0.75"/>
<!-- axes -->
<rect x="69.5" y="6.5" width="422.7" height="398.8" fill="none" stroke="#000" stroke-width="1.7"/>
<path d="M77.9,405.3 v-4.0 M77.9,6.5 v4.0 M86.3,405.3 v-4.0 M86.3,6.5 v4.0 M94.8,405.3 v-4.0 M94.8,6.5 v4.0 M103.2,405.3 v-4.0 M103.2,6.5 v4.0 M111.7,405.3 v-8.0 M111.7,6.5 v8.0 M120.1,405.3 v-4.0 M120.1,6.5 v4.0 M128.6,405.3 v-4.0 M128.6,6.5 v4.0 M137.0,405.3 v-4.0 M137.0,6.5 v4.0 M145.5,405.3 v-4.0 M145.5,6.5 v4.0 M154.0,405.3 v-8.0 M154.0,6.5 v8.0 M162.4,405.3 v-4.0 M162.4,6.5 v4.0 M170.9,405.3 v-4.0 M170.9,6.5 v4.0 M179.3,405.3 v-4.0 M179.3,6.5 v4.0 M187.8,405.3 v-4.0 M187.8,6.5 v4.0 M196.2,405.3 v-8.0 M196.2,6.5 v8.0 M204.7,405.3 v-4.0 M204.7,6.5 v4.0 M213.2,405.3 v-4.0 M213.2,6.5 v4.0 M221.6,405.3 v-4.0 M221.6,6.5 v4.0 M230.1,405.3 v-4.0 M230.1,6.5 v4.0 M238.5,405.3 v-8.0 M238.5,6.5 v8.0 M247.0,405.3 v-4.0 M247.0,6.5 v4.0 M255.4,405.3 v-4.0 M255.4,6.5 v4.0 M263.9,405.3 v-4.0 M263.9,6.5 v4.0 M272.3,405.3 v-4.0 M272.3,6.5 v4.0 M280.8,405.3 v-8.0 M280.8,6.5 v8.0 M289.3,405.3 v-4.0 M289.3,6.5 v4.0 M297.7,405.3 v-4.0 M297.7,6.5 v4.0 M306.2,405.3 v-4.0 M306.2,6.5 v4.0 M314.6,405.3 v-4.0 M314.6,6.5 v4.0 M323.1,405.3 v-8.0 M323.1,6.5 v8.0 M331.5,405.3 v-4.0 M331.5,6.5 v4.0 M340.0,405.3 v-4.0 M340.0,6.5 v4.0 M348.4,405.3 v-4.0 M348.4,6.5 v4.0 M356.9,405.3 v-4.0 M356.9,6.5 v4.0 M365.4,405.3 v-8.0 M365.4,6.5 v8.0 M373.8,405.3 v-4.0 M373.8,6.5 v4.0 M382.3,405.3 v-4.0 M382.3,6.5 v4.0 M390.7,405.3 v-4.0 M390.7,6.5 v4.0 M399.2,405.3 v-4.0 M399.2,6.5 v4.0 M407.6,405.3 v-8.0 M407.6,6.5 v8.0 M416.1,405.3 v-4.0 M416.1,6.5 v4.0 M424.6,405.3 v-4.0 M424.6,6.5 v4.0 M433.0,405.3 v-4.0 M433.0,6.5 v4.0 M441.5,405.3 v-4.0 M441.5,6.5 v4.0 M449.9,405.3 v-8.0 M449.9,6.5 v8.0 M458.4,405.3 v-4.0 M458.4,6.5 v4.0 M466.8,405.3 v-4.0 M466.8,6.5 v4.0 M475.3,405.3 v-4.0 M475.3,6.5 v4.0 M483.7,405.3 v-4.0 M483.7,6.5 v4.0 M69.5,392.8 h8.0 M492.2,392.8 h-8.0 M69.5,360.6 h4.0 M492.2,360.6 h-4.0 M69.5,328.4 h8.0 M492.2,328.4 h-8.0 M69.5,296.2 h4.0 M492.2,296.2 h-4.0 M69.5,264.0 h8.0 M492.2,264.0 h-8.0 M69.5,231.8 h4.0 M492.2,231.8 h-4.0 M69.5,199.6 h8.0 M492.2,199.6 h-8.0 M69.5,167.5 h4.0 M492.2,167.5 h-4.0 M69.5,135.3 h8.0 M492.2,135.3 h-8.0 M69.5,103.1 h4.0 M492.2,103.1 h-4.0 M69.5,70.9 h8.0 M492.2,70.9 h-8.0 M69.5,38.7 h4.0 M492.2,38.7 h-4.0" stroke="#000" stroke-width="1.4" fill="none"/>
<!-- tick labels -->
<text x="60.4" y="396.9" text-anchor="end" class="t">0</text>
<text x="60.4" y="332.5" text-anchor="end" class="t">50</text>
<text x="60.4" y="268.1" text-anchor="end" class="t">100</text>
<text x="60.4" y="203.7" text-anchor="end" class="t">150</text>
<text x="60.4" y="139.4" text-anchor="end" class="t">200</text>
<text x="60.4" y="75.0" text-anchor="end" class="t">250</text>
<text x="60.4" y="10.6" text-anchor="end" class="t">300</text>
<text x="69.4" y="426.4" text-anchor="middle" class="t">2</text>
<text x="111.7" y="426.4" text-anchor="middle" class="t">3</text>
<text x="154.0" y="426.4" text-anchor="middle" class="t">4</text>
<text x="196.2" y="426.4" text-anchor="middle" class="t">5</text>
<text x="238.5" y="426.4" text-anchor="middle" class="t">6</text>
<text x="280.8" y="426.4" text-anchor="middle" class="t">7</text>
<text x="323.1" y="426.4" text-anchor="middle" class="t">8</text>
<text x="365.4" y="426.4" text-anchor="middle" class="t">9</text>
<text x="407.6" y="426.4" text-anchor="middle" class="t">10</text>
<text x="449.9" y="426.4" text-anchor="middle" class="t">11</text>
<text x="492.2" y="426.4" text-anchor="middle" class="t">12</text>
<!-- peak labels -->
<text x="123.2" y="320.6" class="p">1<tspan dy="-7.6" font-size="8.4">3</tspan><tspan dy="7.6" dx="0.3">A'</tspan></text>
<text x="143.6" y="275.0" class="p">2<tspan dy="-7.6" font-size="8.4">3</tspan><tspan dy="7.6" dx="0.3">A'</tspan></text>
<text x="156.2" y="207.0" class="p">2<tspan dy="-7.6" font-size="8.4">1</tspan><tspan dy="7.6" dx="0.3">A'</tspan></text>
<text x="185.4" y="220.0" class="p">1<tspan dy="-7.6" font-size="8.4">1</tspan><tspan dy="7.6" dx="0.3">A"</tspan></text>
<text x="212.2" y="188.6" class="p">3<tspan dy="-7.6" font-size="8.4">1</tspan><tspan dy="7.6" dx="0.3">A'</tspan></text>
<text x="224.8" y="157.8" class="p">4<tspan dy="-7.6" font-size="8.4">1</tspan><tspan dy="7.6" dx="0.3">A'</tspan></text>
<text x="266.8" y="167.0" class="p">5<tspan dy="-7.6" font-size="8.4">1</tspan><tspan dy="7.6" dx="0.3">A'</tspan></text>
<text x="308.0" y="170.6" class="p">6<tspan dy="-7.6" font-size="8.4">1</tspan><tspan dy="7.6" dx="0.3">A'</tspan></text>
<text x="349.8" y="176.0" class="p">I<tspan dy="5.4" font-size="8.4">1</tspan></text>
<text x="375.8" y="176.0" class="p">I<tspan dy="5.4" font-size="8.4">2</tspan></text>
<text x="402.6" y="183.4" class="p">I<tspan dy="5.4" font-size="8.4">3</tspan></text>
<text x="450.0" y="173.0" class="p">I<tspan dy="5.4" font-size="8.4">4</tspan></text>
<path d="M156.4,279.4 V308.2 M173,209.4 L183.4,217.8 V235.2 M196,224 V244.2 M224.8,194 L214.4,204.4 V230.2 M237.4,161.8 L247.8,170.8 V197.4 M275.2,170.2 V197.4 M317.2,175 L307.4,185.6 V211.4 M353.6,182 V209.4 M379.6,184.8 V212.2 M404.9,190.8 V217.7 M458.3,177.8 L467.7,185.6 V211.7" stroke="#000" stroke-width="1.3" fill="none"/>
<path d="M136,326.4 V335.2" stroke="#000" stroke-width="1" fill="none"/>
<!-- titles -->
<text x="130.4" y="46.4" class="b" font-size="18.8" textLength="290" lengthAdjust="spacingAndGlyphs">Cytosine (1 layer)/Ar(3 layers)/Pt</text>
<g class="b" font-size="17">
<text transform="translate(219.6,81.1) scale(1.1,1)" class="th">&#952;</text>
<text x="226.8" y="87.6" font-size="10.4">0</text>
<text x="231.2" y="81.1" font-size="17.6">=15</text>
<text x="260.8" y="72.5" font-size="10.8">o</text>
<text x="267.2" y="81.1">,</text>
<text transform="translate(278.0,81.1) scale(1.1,1)" class="th">&#952;</text>
<text x="285.8" y="87.5" font-size="10.8">d</text>
<text x="291.0" y="81.1" font-size="17.6">=45</text>
<text x="319.8" y="72.5" font-size="10.8">o</text>
</g>
<text x="204.2" y="456.1" class="b" font-size="16.8" textLength="153.2" lengthAdjust="spacingAndGlyphs">ENERGY LOSS(eV)</text>
<text transform="translate(17.7,358.8) rotate(-90)" class="b" font-size="17">SCATTERED INTENSITY (counts sec<tspan dy="-11" dx="1.2" font-size="10">-1</tspan><tspan dy="11" dx="-1.4">)</tspan></text>
</svg>
</body>
</html>
